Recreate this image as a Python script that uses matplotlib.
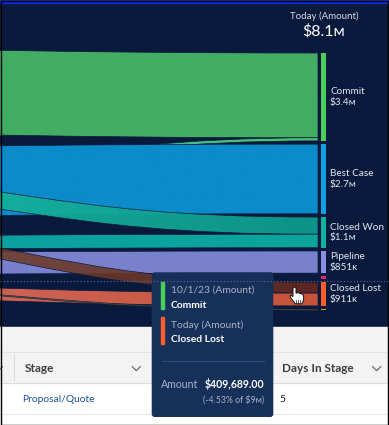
import numpy as np
import matplotlib
matplotlib.use('Agg')
from matplotlib import pyplot as plt
from matplotlib.patches import PathPatch, Rectangle, FancyBboxPatch, Polygon
from matplotlib.path import Path
from matplotlib.colors import LinearSegmentedColormap

plt.rcParams['font.family'] = ['Lato', 'DejaVu Sans']

NAVY = '#0a1a3d'

# right-hand column: Today (Amount), values in $M
stages = ['Commit', 'Best Case', 'Closed Won', 'Pipeline', '', 'Closed Lost', '']
stage_values = [3.38, 2.68, 1.18, 0.851, 0.10, 0.911, 0.04]
stage_labels = ['$3.4ᴍ', '$2.7ᴍ', '$1.1ᴍ', '$851ᴋ', '', '$911ᴋ', '']
stage_colors = ['#4bcf5b', '#14a0e6', '#0fb3a0', '#8a8fdf', '#e0237d', '#fe5c2a', '#c8a21e']
total_label = '$8.1ᴍ'

# flows: offset on the 10/1/23 column ($M), target stage, amount ($M)
flow_source = [-0.17, 5.12, 3.61, 4.70, 7.03, 7.67, 6.62, 8.91, 8.93]
flow_target = [0, 0, 1, 2, 2, 3, 5, 5, 6]
flow_value = [3.26, 0.12, 2.68, 0.66, 0.52, 0.851, 0.42, 0.491, 0.04]
flow_colors = [('#42ad63', '#42ad63'), ('#3ab0e0', '#4cc46a'), ('#0c8bca', '#0c8bca'),
               ('#1abfa6', '#0e9b8c'), ('#0a9ea6', '#0ca59a'), ('#7880cc', '#7a82d0'),
               ('#76523c', '#66291f'), ('#d0706a', '#c8533a'), ('#9a9640', '#a89a3a')]
flow_alpha = [1, 1, 1, 0.95, 1, 1, 0.9, 1, 1]
draw_order = [0, 2, 4, 5, 1, 3, 7, 8, 6]

# tooltip
tip_rows = [('10/1/23 (Amount)', 'Commit', '#4bcf5b'), ('Today (Amount)', 'Closed Lost', '#fe5c2a')]
tip_amount = '$409,689.00'
tip_change = '(-4.53% of $9ᴍ)'

# table
columns = ['Stage', 'Days In Stage']
row = ['Proposal/Quote', '5']

GAP = 0.125
W, H = 389, 425
fig = plt.figure(figsize=(W / 100, H / 100), dpi=100)

# background / layout axes in pixels
bg = fig.add_axes([0, 0, 1, 1])
bg.set_xlim(0, W)
bg.set_ylim(H, 0)
bg.axis('off')
bg.add_patch(Rectangle((0, 0), W, 327, color=NAVY, zorder=0))
bg.add_patch(Rectangle((0, 0), W, 3.3, color='#0b2fd0', zorder=1))
bg.add_patch(Rectangle((0, 327), W, 56, color='#f3f3f3', zorder=0))
bg.plot([0, W], [352, 352], color='#e2e2e2', lw=0.8)
bg.plot([0, W], [383, 383], color='#dddbda', lw=0.8)
bg.plot([0, W], [414, 414], color='#e8e8e8', lw=0.8)
bg.plot([14.3, 14.3], [355, 380], color='#dddbda', lw=0.8)
for cx in [-1.5, 136.3, 376.7]:
    bg.plot([cx - 4, cx, cx + 4], [366.7, 370.7, 366.7], color='#706e6b', lw=0.9)
bg.text(24.3, 368.3, columns[0], fontsize=8.6, fontweight='bold', color='#3e3e3c', va='center')
bg.text(281.7, 368.3, columns[1], fontsize=8.5, fontweight='bold', color='#3e3e3c', va='center')
bg.text(21.7, 399, row[0], fontsize=7.4, color='#1b5297', va='center')
bg.text(279.3, 399, row[1], fontsize=7.4, color='#181818', va='center')
bg.text(324, 16, 'Today (Amount)', fontsize=7, color='#d8dde6', ha='center', va='center')
bg.text(324, 31.5, total_label, fontsize=11.5, color='white', ha='center', va='center')

# sankey axes, values in $M
XS = 0.45
ppu = 318 / (1 - XS)
sk = fig.add_axes([0, 98 / H, 1, 327 / H])
sk.axis('off')

tops = np.concatenate([[0], np.cumsum(np.array(stage_values) + GAP)[:-1]])
fill = tops.copy()
t_top = []
for tg, v in zip(flow_target, flow_value):
    t_top.append(fill[tg])
    fill[tg] += v

for i in draw_order:
    ys0, yt0, v = flow_source[i], t_top[i], flow_value[i]
    verts = [(0, ys0), (0.5, ys0), (0.5, yt0), (1, yt0), (1, yt0 + v),
             (0.5, yt0 + v), (0.5, ys0 + v), (0, ys0 + v), (0, ys0)]
    codes = [Path.MOVETO, Path.CURVE4, Path.CURVE4, Path.CURVE4, Path.LINETO,
             Path.CURVE4, Path.CURVE4, Path.CURVE4, Path.CLOSEPOLY]
    patch = PathPatch(Path(verts, codes), fc='none', ec=NAVY, lw=0.5, zorder=i + 2)
    sk.add_patch(patch)
    cmap = LinearSegmentedColormap.from_list('f%d' % i, flow_colors[i])
    lo, hi = min(ys0, yt0) - 0.1, max(ys0, yt0) + v + 0.1
    im = sk.imshow(np.linspace(0, 1, 256).reshape(1, -1), cmap=cmap, extent=(0, 1, hi, lo),
                   aspect='auto', alpha=flow_alpha[i], zorder=i + 1.5, interpolation='bilinear')
    im.set_clip_path(patch)

sk.barh(tops + np.array(stage_values) / 2, 4 / ppu, left=1 + 3.5 / ppu, height=stage_values,
        color=stage_colors, zorder=20)
for name, lab, top, v in zip(stages, stage_labels, tops, stage_values):
    if name:
        c = top + v / 2
        sk.text(1 + 12 / ppu, c - 5.3 / 26, name, fontsize=7.2, color='#e4e8ee', va='center')
        sk.text(1 + 12 / ppu, c + 5.3 / 26, lab, fontsize=7.2, color='#e4e8ee', va='center')

sk.set_xlim(XS, XS + W / ppu)
sk.set_ylim((327 - 53) / 26, -53 / 26)

# overlay: hover line, tooltip, cursor
top = fig.add_axes([0, 0, 1, 1], zorder=5)
top.set_xlim(0, W)
top.set_ylim(H, 0)
top.axis('off')
top.plot([0, W], [281, 281], color='#5a6a9a', lw=0.8, ls=(0, (1, 2)))
top.add_patch(FancyBboxPatch((151.7, 272.3), 121.6, 144.7,
                             boxstyle='round,pad=0,rounding_size=3', fc='#16305a', ec='none'))
for k, (lbl, val, col) in enumerate(tip_rows):
    y0 = 281.7 + k * 35
    top.add_patch(Rectangle((161.5, y0), 2.2, 27.6, color=col))
    top.text(170.7, y0 + 8.3, lbl, fontsize=7.4, color='#a9b3c4', va='center')
    top.text(170.7, y0 + 23.3, val, fontsize=7.4, fontweight='bold', color='white', va='center')
top.plot([161.7, 264.3], [361, 361], color='#2e4a78', lw=0.8)
top.text(264.3, 384, tip_amount, fontsize=7.6, fontweight='bold', color='white', ha='right', va='center')
top.text(264.3 - 66, 384, 'Amount', fontsize=7.6, color='#a9b3c4', ha='right', va='center')
top.text(264.3, 400.3, tip_change, fontsize=6.3, color='#a9b3c4', ha='right', va='center')

# pointer cursor
hand = [(293, 288.2), (294.5, 286.8), (296, 288.2), (296, 293.2), (298, 292.6), (300, 293.4),
        (302, 293.9), (303.6, 295.2), (303.6, 300.2), (302, 303.8), (295.2, 303.8), (291.2, 298.4),
        (290, 296.4), (290.8, 295.2), (293, 296.6)]
top.add_patch(Polygon(hand, closed=True, fc='white', ec='#111111', lw=0.7, zorder=6))
for hx in [296, 298.2, 300.4]:
    top.plot([hx, hx], [299.5, 302.5], color='#111111', lw=0.5, zorder=7)
top.add_patch(Rectangle((0.5, 0.5), W - 1, H - 1, fc='none', ec='black', lw=1))

fig.savefig('out.png', dpi=100)
